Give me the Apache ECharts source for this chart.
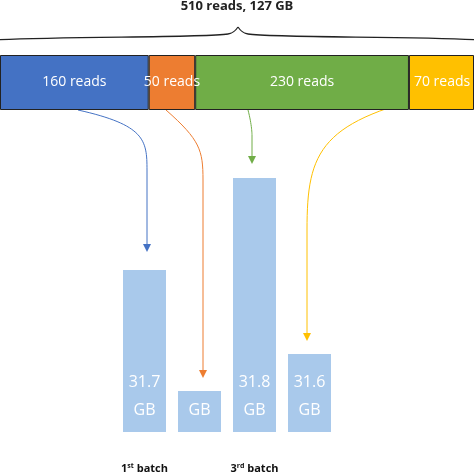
<!DOCTYPE html>
<html>
<head>
<meta charset="utf-8">
<script src="https://cdn.jsdelivr.net/npm/echarts@6/dist/echarts.min.js"></script>
<style>html,body{margin:0;padding:0;background:#fff}#main{width:474px;height:474px}</style>
</head>
<body>
<div id="main"></div>
<script>
// reads per batch (top strip)
var batchReads = [160, 50, 230, 70];
var readColors = ['#4472C4', '#ED7D31', '#70AD47', '#FFC000'];
// bottom bars
var batchNames = ['1{s|st} batch', '2{s|nd} batch', '3{s|rd} batch', '4{s|th} batch'];
var barHeights = [162, 41, 254, 78];
var sizeGB = ['31.7', '31.9', '31.8', '31.6'];

var myChart = echarts.init(document.getElementById('main'));

var stripSeries = batchReads.map(function (v, i) {
	return {
		type: 'bar', stack: 'reads', xAxisIndex: 0, yAxisIndex: 0,
		barWidth: 55, data: [v],
		itemStyle: {color: readColors[i], borderColor: '#222', borderWidth: 1},
		label: {show: true, position: i == 3 ? 'insideLeft' : 'inside', color: '#fff', fontSize: 14,
			fontFamily: 'Open Sans', formatter: v + ' reads'}
	};
});

function curve(color, p, w) {
	return {
		type: 'bezierCurve', silent: true,
		shape: {x1: p[0], y1: p[1], cpx1: p[2], cpy1: p[3], cpx2: p[4], cpy2: p[5], x2: p[6], y2: p[7]},
		style: {stroke: color, lineWidth: w || 1, fill: null}
	};
}

function arrow(color, pts, tip) {
	return [curve(color, pts), {
		type: 'line', silent: true,
		shape: {x1: pts[6], y1: pts[7], x2: pts[6], y2: tip - 6},
		style: {stroke: color, lineWidth: 1}
	}, {
		type: 'polygon', silent: true,
		shape: {points: [[pts[6] - 4, tip - 8], [pts[6] + 4, tip - 8], [pts[6], tip]]},
		style: {fill: color}
	}];
}

var graphics = [
	{type: 'text', x: 237, y: 0, style: {text: '510 reads, 127 GB', font: 'bold 13px "Open Sans"', fill: '#222', align: 'center'}},
	curve('#222', [-5, 40, 60, 36, 200, 38, 228, 34], 1.3),
	curve('#222', [228, 34, 234, 33, 236, 30, 238, 27], 1.3),
	curve('#222', [238, 27, 240, 30, 242, 33, 248, 34], 1.3),
	curve('#222', [248, 34, 276, 38, 420, 36, 480, 40], 1.3)
];
graphics = graphics.concat(
	arrow('#4472C4', [78, 110, 145, 125, 147, 140, 147, 170], 252),
	arrow('#ED7D31', [166, 110, 200, 140, 203, 150, 203, 180], 378),
	arrow('#70AD47', [248, 110, 252, 125, 252, 135, 252, 135], 164),
	arrow('#FFC000', [448, 92, 320, 120, 307, 150, 307, 230], 341)
);

option = {
	animation: false,
	graphic: graphics,
	grid: [
		{left: -82, right: -56, top: 55, height: 55},
		{left: 117, right: 137, top: 160, bottom: 42}
	],
	xAxis: [
		{gridIndex: 0, type: 'value', min: 0, max: 510, show: false},
		{gridIndex: 1, type: 'category', data: batchNames, axisLine: {show: false}, axisTick: {show: false},
			axisLabel: {margin: 30, fontSize: 11, fontWeight: 'bold', color: '#111', fontFamily: 'Open Sans',
				rich: {s: {fontSize: 7, fontWeight: 'bold', verticalAlign: 'top', padding: [0, 0, 6, 0]}}}}
	],
	yAxis: [
		{gridIndex: 0, type: 'category', data: ['reads'], show: false},
		{gridIndex: 1, type: 'value', min: 0, max: 272, show: false}
	],
	series: stripSeries.concat([{
		type: 'bar', xAxisIndex: 1, yAxisIndex: 1, barWidth: 43,
		data: barHeights,
		itemStyle: {color: '#A9C9EB'},
		label: {show: true, position: 'insideBottom', distance: 8, color: '#fff', fontSize: 16, lineHeight: 28,
			fontFamily: 'Open Sans',
			formatter: function (p) { return sizeGB[p.dataIndex] + '\nGB'; }}
	}])
};
myChart.setOption(option);
</script>
</body>
</html>
